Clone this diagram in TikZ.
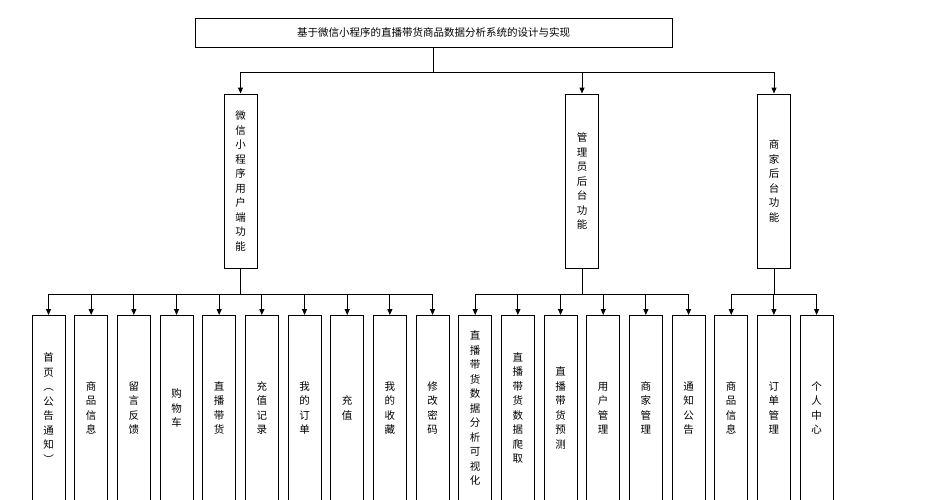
\documentclass[tikz,border=0pt]{standalone}
\usepackage{fontspec}
\setmainfont{Noto Sans CJK SC}
\usetikzlibrary{arrows.meta}
\begin{document}
\begin{tikzpicture}[x=1pt,y=-1pt,
  box/.style={draw,line width=1pt,inner sep=0pt},
  vt/.style={align=center,font=\fontsize{10.5}{14.5}\selectfont},
  arr/.style={line width=1pt,-{Triangle[width=5pt,length=6pt]}},
  ln/.style={line width=1pt}]
\useasboundingbox (0,0) rectangle (928,499);
\begin{scope}
\clip (0,0) rectangle (928,499);
\node[box,minimum width=477pt,minimum height=29pt,font=\fontsize{10.5}{12}\selectfont] (top) at (433.5,32.5) {基于微信小程序的直播带货商品数据分析系统的设计与实现};
\coordinate (t) at (433.5,72);
\draw[ln] (top.south) -- (t);
\foreach \n/\x/\t in {m1/240.5/微\\信\\小\\程\\序\\用\\户\\端\\功\\能, m2/582/管\\理\\员\\后\\台\\功\\能, m3/774/商\\家\\后\\台\\功\\能}{
  \node[box,minimum width=33pt,minimum height=174pt] (\n) at (\x,181) {};
  \node[vt] (\n t) at (\n) {\t};
  \coordinate (\n a) at (\x,72);
  \draw[arr] (\n a) -- (\n.north);
  \coordinate (\n b) at (\x,294);
  \draw[ln] (\n.south) -- (\n b);
}
\draw[ln] (m1a) -- (m3a);
\foreach \i/\t in {0/首\\页\\︵\\公\\告\\通\\知\\︶,1/商\\品\\信\\息,2/留\\言\\反\\馈,3/购\\物\\车,4/直\\播\\带\\货,5/充\\值\\记\\录,6/我\\的\\订\\单,7/充\\值,8/我\\的\\收\\藏,9/修\\改\\密\\码,10/直\\播\\带\\货\\数\\据\\分\\析\\可\\视\\化,11/直\\播\\带\\货\\数\\据\\爬\\取,12/直\\播\\带\\货\\预\\测,13/用\\户\\管\\理,14/商\\家\\管\\理,15/通\\知\\公\\告,16/商\\品\\信\\息,17/订\\单\\管\\理,18/个\\人\\中\\心}{
  \pgfmathsetmacro\xx{48.5+42.67*\i}
  \node[box,minimum width=33pt,minimum height=250pt,anchor=north] (b\i) at (\xx,315) {};
  \node[vt] (b\i t) at (\xx,408) {\t};
  \coordinate (c\i) at (\xx,294);
  \draw[arr] (c\i) -- (b\i.north);
}
\draw[ln] (c0) -- (c9);
\draw[ln] (c10) -- (c15);
\draw[ln] (c16) -- (c18);
\end{scope}
\end{tikzpicture}
\end{document}
